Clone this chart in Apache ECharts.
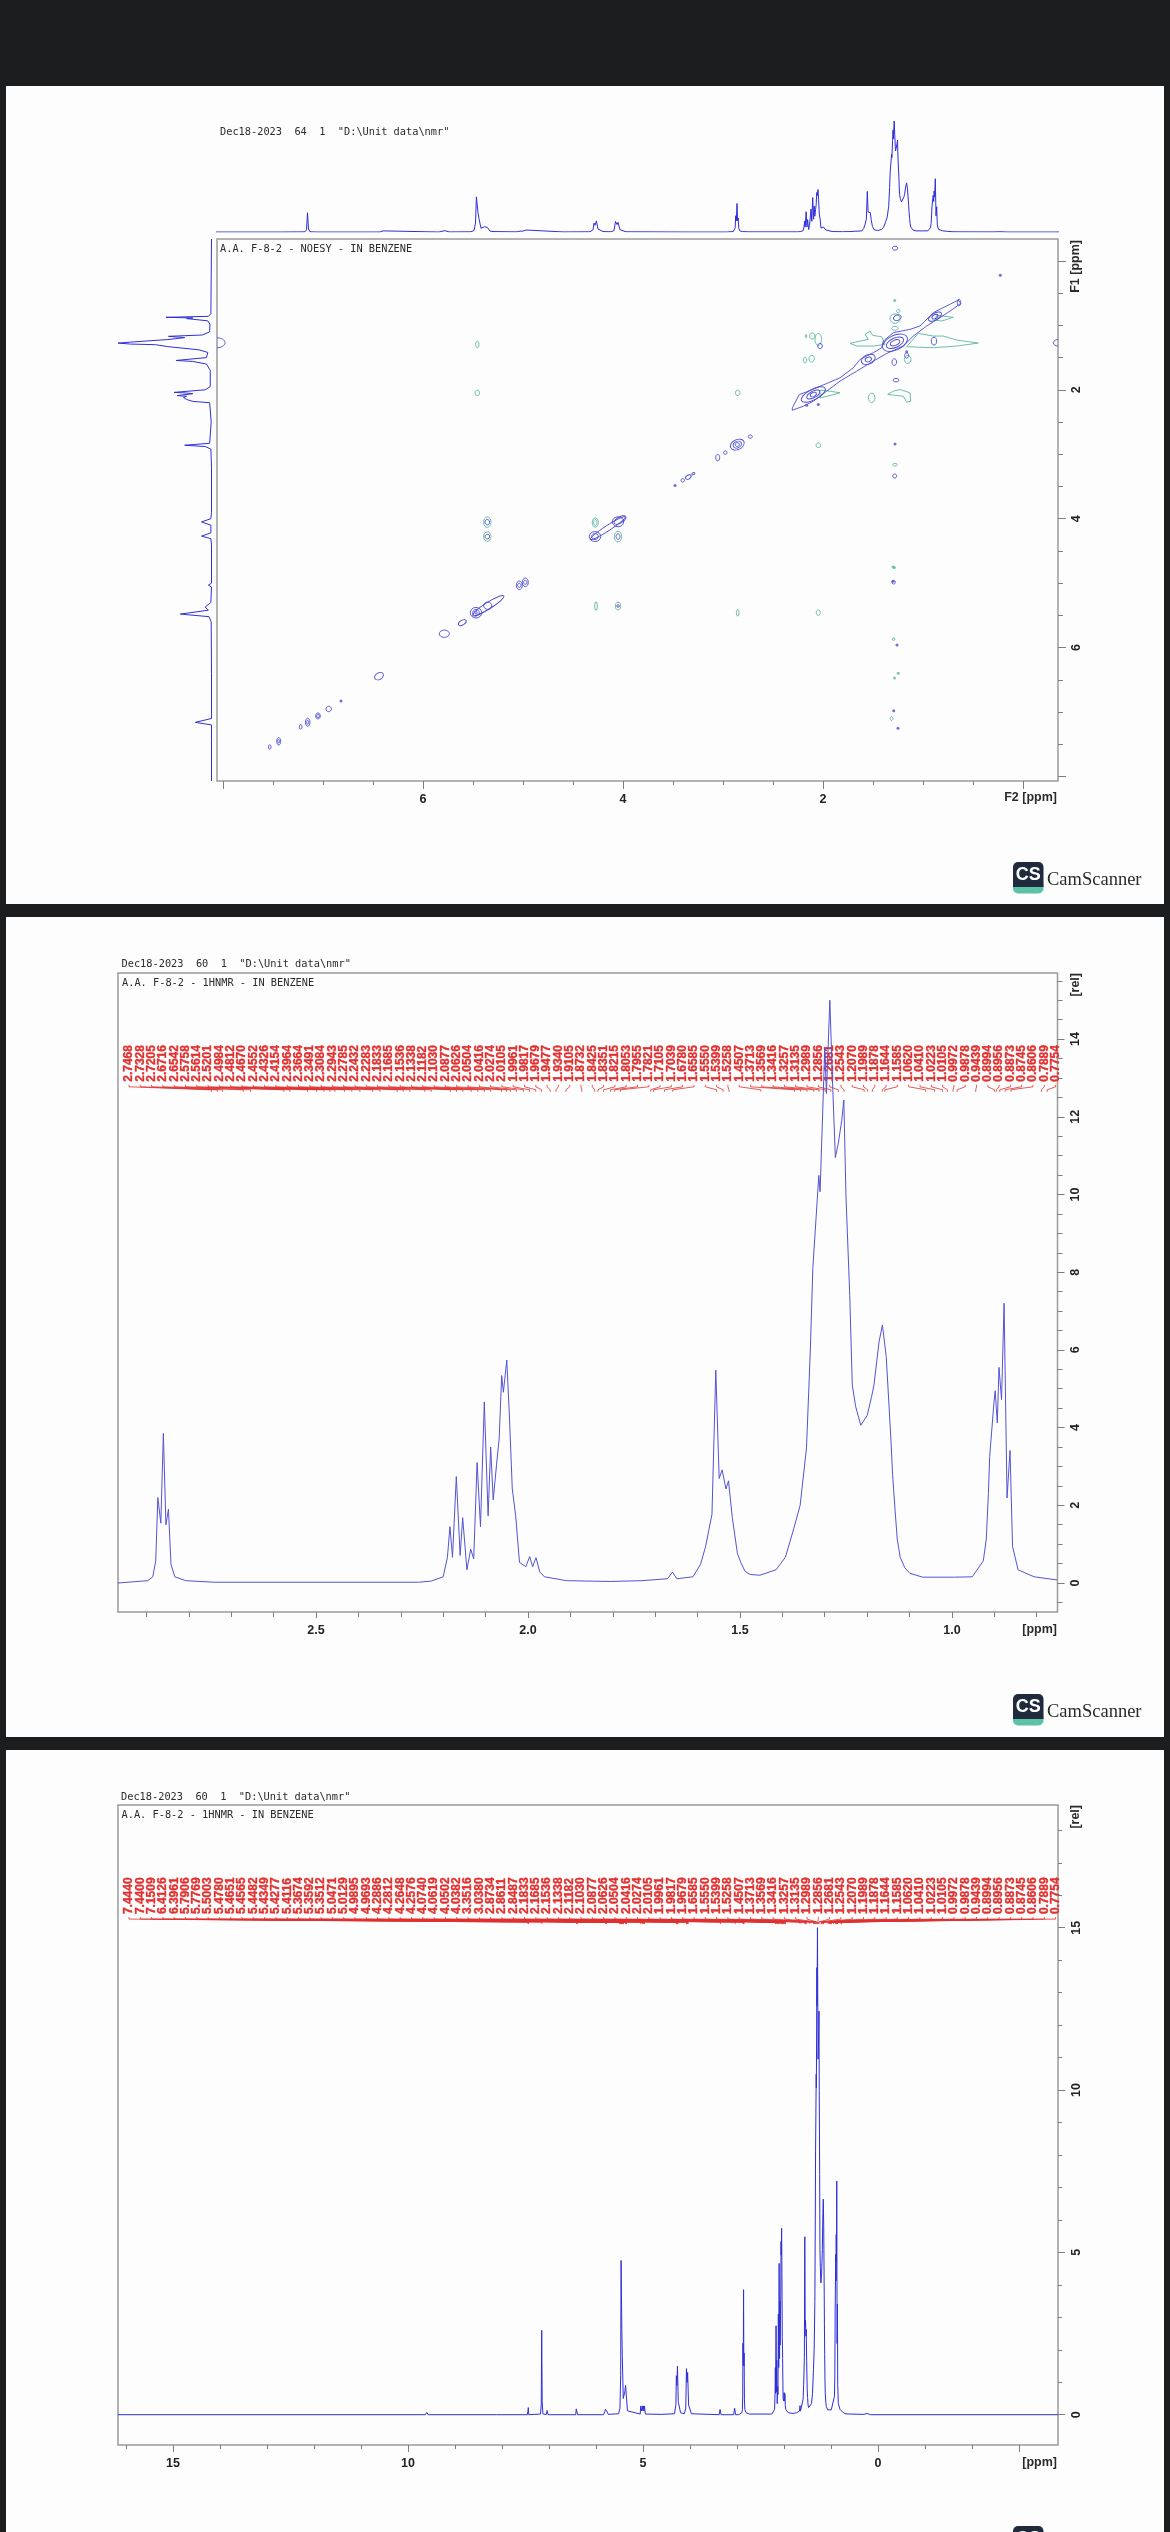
<!DOCTYPE html>
<html>
<head>
<meta charset="utf-8">
<title>NMR spectra</title>
<style>
  html, body { margin: 0; padding: 0; background: #1c1d1f; }
  #main { width: 1170px; height: 2532px; }
</style>
<script src="https://cdn.jsdelivr.net/npm/echarts@6/dist/echarts.min.js"></script>
</head>
<body>
<div id="main"></div>
<script>
// low field part of the 1H trace
var lowPpm = [16.17,9.63,9.60,9.57,8.12,8.10,8.08,7.46,7.45,7.44,7.43,7.18,7.165,7.155,7.145,7.13,7.06,7.04,7.02,6.96,6.94,6.92,6.83,6.81,6.79,6.43,6.42,6.40,6.39,5.84,5.81,5.80,5.79,5.78,5.76,5.74,5.52,5.49,5.475,5.466,5.45,5.44,5.42,5.40,5.385,5.37,5.355,5.33,5.30,5.06,5.047,5.03,5.013,5.0,4.99,4.98,4.97,4.95,4.6,4.33,4.30,4.29,4.28,4.266,4.25,4.20,4.12,4.09,4.075,4.06,4.05,4.03,3.97,3.38,3.36,3.34,3.07,3.05,3.03];
var lowRel = [0,0,.07,0,0,.03,0,0,.1,.22,0,.02,.3,2.6,.4,.03,0,.13,0,0,.05,0,0,.06,0,0,.18,.15,0,0,.1,.17,.12,.18,.08,.01,.03,.2,1.2,4.75,2.6,1.8,.5,.5,.72,.9,.6,.12,.06,.02,.27,.12,.27,.12,.27,.12,.27,.02,.01,.03,.3,1.2,.9,1.5,.4,.06,.03,.2,1.42,1.0,1.3,.3,.03,0,.16,0,0,.2,0];

// expanded 1H trace
var zoomPpm = [2.967,2.897,2.885,2.878,2.873,2.866,2.860,2.854,2.848,2.842,2.833,2.807,2.74,2.258,2.228,2.20,2.19,2.184,2.178,2.169,2.16,2.154,2.144,2.135,2.128,2.12,2.112,2.103,2.094,2.088,2.082,2.074,2.068,2.062,2.058,2.05,2.044,2.037,2.029,2.02,2.005,1.996,1.989,1.981,1.972,1.961,1.909,1.806,1.731,1.671,1.659,1.649,1.611,1.593,1.581,1.566,1.557,1.549,1.542,1.533,1.527,1.518,1.506,1.498,1.488,1.476,1.453,1.415,1.393,1.373,1.358,1.343,1.334,1.328,1.314,1.311,1.304,1.30,1.296,1.288,1.282,1.275,1.268,1.26,1.255,1.25,1.241,1.235,1.227,1.215,1.2,1.19,1.184,1.172,1.164,1.155,1.144,1.14,1.134,1.129,1.122,1.111,1.099,1.069,.994,.952,.926,.919,.914,.911,.901,.898,.893,.889,.883,.877,.87,.863,.857,.844,.806,.752];
var zoomRel = [0,.06,.16,.57,2.2,1.54,3.85,1.5,1.9,.48,.16,.06,.02,.02,.05,.16,.66,1.45,.66,2.74,.71,1.68,.34,.87,.62,3.1,1.45,4.66,1.73,3.5,2.14,3.06,3.71,5.34,4.91,5.74,4.35,2.42,1.73,.53,.42,.68,.42,.65,.28,.16,.06,.04,.06,.11,.28,.11,.16,.48,.94,1.77,5.48,2.69,2.91,2.42,2.63,1.68,.76,.53,.3,.22,.2,.34,.66,1.4,2.0,3.48,6.0,8.12,10.49,10.07,12.4,13.77,12.6,15.0,13.0,10.95,11.32,11.9,12.43,9.98,7.4,5.09,4.54,4.06,4.31,4.77,5.09,6.2,6.64,5.83,3.71,2.79,1.86,1.13,.66,.39,.25,.15,.15,.16,.57,1.13,2.3,3.25,4.63,4.95,4.12,5.55,4.72,7.2,2.19,3.41,.94,.34,.16,.08];

var tailPpm = [.70,.60,.30,.23,.16,-3.83];
var tailRel = [.03,.02,.01,.04,0,0];

// F1 projection at the left of the NOESY panel
var sidePpm = [-.34,.82,.86,.875,.885,.895,.93,.98,1.1,1.15,1.17,1.19,1.22,1.26,1.275,1.29,1.30,1.33,1.38,1.42,1.5,1.545,1.56,1.6,1.7,1.95,2.0,2.04,2.05,2.06,2.09,2.1,2.12,2.15,2.18,2.2,2.5,2.83,2.86,2.88,2.92,3.2,3.21,3.22,3.9,4.0,4.05,4.1,4.22,4.27,4.31,4.4,5.0,5.03,5.06,5.3,5.37,5.42,5.48,5.52,5.6,6.4,6.41,6.42,7.1,7.16,7.2,7.44,7.45,7.46,8.07];
var sideRel = [0,.1,.5,7.3,3.0,4.0,.6,.25,.3,1.5,6.9,4.3,7,13,15,13,9,7,2,.6,.8,5.7,3,.8,.2,.2,1,6,4,3,5.5,4,4.5,4,3,.3,.05,.3,4.3,1,.1,0,.15,0,0,.1,1.6,.1,.1,1.6,.1,0,0,.5,0,.1,1,.5,5,.4,.05,0,.15,0,0,2.6,0,0,.15,0,0];

// diagonal and cross peak contours: f2, f1, radius a, radius b (ppm of f2), tilt
var blueRings = [
  [1.28,-.198,.027,.02,0],[.64,.647,.017,.033,0],[.88,.865,.073,.033,30],[.88,.865,.033,.02,30],
  [1.257,.881,.04,.027,20],[1.28,1.27,.133,.073,25],[1.28,1.27,.093,.047,25],[1.28,1.27,.05,.027,25],
  [1.547,1.529,.073,.047,25],[1.547,1.529,.033,.023,25],[2.097,2.073,.133,.053,28],[2.097,2.073,.073,.033,28],
  [2.097,2.073,.033,.02,28],[.89,1.244,.027,.04,0],[2.03,1.321,.023,.027,0],[1.163,1.467,.02,.027,0],
  [1.287,1.57,.023,.033,0],[1.27,1.85,.03,.017,0],[2.857,2.85,.073,.05,25],[2.857,2.85,.043,.033,25],
  [2.857,2.85,.02,.02,0],[2.727,2.726,.02,.017,0],[3.053,3.053,.02,.033,0],[2.977,2.975,.017,.017,0],
  [3.403,3.405,.017,.017,0],[3.347,3.354,.03,.02,30],[3.297,3.302,.017,.01,30],[1.283,3.338,.02,.02,0],
  [1.293,4.987,.017,.017,0],[7.533,7.543,.013,.023,0],[7.443,7.454,.02,.037,0],[7.443,7.454,.01,.017,0],
  [7.223,7.231,.013,.023,0],[7.153,7.159,.023,.04,0],[7.153,7.159,.01,.02,0],[7.05,7.06,.023,.03,0],
  [7.05,7.06,.013,.017,0],[6.943,6.952,.027,.027,0],[6.44,6.444,.047,.033,30],[5.787,5.785,.05,.037,0],
  [5.607,5.614,.043,.023,30],[5.47,5.459,.057,.053,0],[5.47,5.459,.033,.033,0],[5.47,5.459,.013,.013,0],
  [5.347,5.35,.183,.033,32],[5.353,5.35,.04,.037,0],[5.037,5.034,.03,.043,0],[5.037,5.034,.017,.02,0],
  [4.977,4.987,.03,.043,0],[4.977,4.987,.017,.02,0],[4.28,4.277,.057,.05,0],[4.28,4.277,.033,.03,0],
  [4.05,4.048,.057,.05,0],[4.03,4.02,.067,.03,30],[4.153,4.147,.207,.027,33],[5.357,4.054,.023,.027,0],
  [5.357,4.277,.023,.023,0],[4.05,4.277,.02,.027,0],[4.05,5.355,.013,.013,0],[-.353,1.27,.05,.033,0],
  [8.06,1.27,.08,.05,0]
];
var blueDots = [[.227,.222],[3.48,3.483],[1.28,2.84],[6.82,6.827],[2.047,2.228],[2.163,2.24],[1.163,1.41],[1.26,5.96],[1.293,6.98],[1.25,7.25],[1.3,4.97]];
var greenRings = [
  [5.457,1.296,.017,.033,0],[5.457,2.047,.023,.027,0],[5.357,4.054,.037,.053,0],[5.357,4.277,.037,.047,0],
  [4.277,4.059,.03,.047,0],[4.277,4.059,.017,.03,0],[4.05,4.277,.037,.053,0],[4.27,5.355,.013,.043,0],
  [4.05,5.355,.027,.04,0],[1.247,.777,.017,.017,0],[1.28,.896,.05,.047,0],[1.28,1.047,.033,.02,0],
  [2.107,1.166,.027,.03,0],[2.17,1.166,.007,.017,0],[2.047,1.218,.033,.06,0],[2.18,1.539,.017,.03,0],
  [2.113,1.518,.027,.033,0],[2.853,2.047,.023,.027,0],[2.047,2.861,.023,.023,0],[1.513,2.125,.033,.047,0],
  [1.28,3.162,.023,.013,0],[2.853,5.458,.013,.033,0],[2.047,5.458,.02,.027,0],[1.153,1.529,.033,.04,0],
  [1.315,7.1,.013,.02,0],[1.293,5.87,.013,.013,0]
];
var greenDots = [[1.283,.616],[1.287,4.759],[1.3,4.75],[1.285,6.47],[1.247,6.4]];

// outlines that are not plain ellipses, f2 and f1 pairs
var blueOutlines = [
  [[2.307,2.28],[2.237,2.073],[2.163,2.032],[1.963,1.902],[1.83,1.814],[1.697,1.658],[1.63,1.529],[1.497,1.425],[1.413,1.347],[1.397,1.244],[1.297,1.114],[1.13,1.062],[1.03,1.01],[.897,.803],[.73,.673],[.647,.606],[.623,.658],[.68,.725],[.83,.881],[.963,1.01],[1.097,1.166],[1.197,1.321],[1.363,1.436],[1.497,1.555],[1.663,1.71],[1.83,1.866],[1.963,2.021],[2.097,2.177],[2.197,2.255],[2.307,2.317]]
];
var greenOutlines = [
  [[1.163,1.332],[1.047,1.124],[.897,1.166],[.797,1.166],[.663,1.228],[.447,1.275],[.663,1.321],[.897,1.347]],
  [[1.73,1.28],[1.63,1.244],[1.547,1.218],[1.58,1.14],[1.53,1.088],[1.503,1.156],[1.413,1.176],[1.38,1.295],[1.497,1.321],[1.663,1.321]],
  [[1.353,2.073],[1.297,2.021],[1.23,1.995],[1.13,2.047],[1.123,2.177],[1.163,2.192],[1.197,2.099],[1.297,2.083]],
  [[2.03,2.006],[1.93,2.021],[1.83,2.047],[1.93,2.089],[2.03,2.125]],
  [[.863,.844],[.697,.876],[.813,.933],[.88,.917]]
];

// peak lists of the two 1D panels
var peaksExpanded = ['2.7468','2.7328','2.7205','2.6716','2.6542','2.5758','2.5614','2.5201','2.4984','2.4812','2.4670','2.4552','2.4326','2.4154','2.3964','2.3664','2.3491','2.3084','2.2943','2.2785','2.2432','2.2283','2.1833','2.1685','2.1536','2.1338','2.1182','2.1030','2.0877','2.0626','2.0504','2.0416','2.0274','2.0105','1.9961','1.9817','1.9679','1.9477','1.9340','1.9105','1.8732','1.8425','1.8351','1.8215','1.8053','1.7955','1.7821','1.7105','1.7039','1.6780','1.6585','1.5550','1.5399','1.5258','1.4507','1.3713','1.3569','1.3416','1.3257','1.3135','1.2989','1.2856','1.2681','1.2543','1.2070','1.1989','1.1878','1.1644','1.1585','1.0620','1.0410','1.0223','1.0105','0.9972','0.9878','0.9439','0.8994','0.8956','0.8873','0.8745','0.8606','0.7889','0.7754'];
var peaksFull = ['7.4440','7.4400','7.1509','6.4126','6.3961','5.7906','5.7769','5.5003','5.4780','5.4651','5.4565','5.4482','5.4349','5.4277','5.4116','5.3674','5.3592','5.3512','5.0471','5.0129','4.9895','4.9693','4.2886','4.2812','4.2648','4.2576','4.0740','4.0619','4.0502','4.0382','3.3516','3.0380','2.8734','2.8611','2.8487','2.1833','2.1685','2.1536','2.1338','2.1182','2.1030','2.0877','2.0626','2.0504','2.0416','2.0274','2.0105','1.9961','1.9817','1.9679','1.6585','1.5550','1.5399','1.5258','1.4507','1.3713','1.3569','1.3416','1.3257','1.3135','1.2989','1.2856','1.2681','1.2543','1.2070','1.1989','1.1878','1.1644','1.1585','1.0620','1.0410','1.0223','1.0105','0.9972','0.9878','0.9439','0.8994','0.8956','0.8873','0.8745','0.8606','0.7889','0.7754'];

// tick labels
var noesyLabels = [2, 4, 6];
var noesyMajor = [0, 2, 4, 6, 8];
var expandedXLabels = [1, 1.5, 2, 2.5];
var expandedYLabels = [0, 2, 4, 6, 8, 10, 12, 14];
var fullXLabels = [0, 5, 10, 15];
var fullXMajor = [-3, 0, 5, 10, 15];
var fullYLabels = [0, 5, 10, 15];

var headerNoesy = 'Dec18-2023  64  1  "D:\\Unit data\\nmr"';
var header1H = 'Dec18-2023  60  1  "D:\\Unit data\\nmr"';
var titleNoesy = 'A.A. F-8-2 - NOESY - IN BENZENE';
var title1H = 'A.A. F-8-2 - 1HNMR - IN BENZENE';

var fullPpm = lowPpm.concat(zoomPpm, tailPpm);
var fullRel = lowRel.concat(zoomRel, tailRel);

var BLUE = '#2f2fd6', TRACE = '#5353d4', CONTOUR = '#4a4ad2', GREEN = '#5cb5a2', RED = '#e0302f', GRAY = '#9b9b9b';
var MONO = '"DejaVu Sans Mono", monospace', SANS = '"Liberation Sans", sans-serif';
var PAGE_TOPS = [86, 917, 1750], PAGE_BOTTOMS = [904, 1737, 2532];
var LOGO_TOPS = [862, 1694, 2526];
var LABEL_LEFT = 129, LABEL_STEP = 11.3;

function range(from, to, step) {
  var out = [];
  for (var i = 0; from + i * step <= to + 1e-9; i++) out.push(+(from + i * step).toFixed(3));
  return out;
}
function pairs(a, b) {
  return a.map(function (v, i) { return [v, b[i]]; });
}

// grids
var grids = [
  { left: 217, top: 239, width: 841, height: 542, show: true, borderColor: GRAY, borderWidth: 1.5 },
  { left: 217, top: 121, width: 841, height: 111 },
  { left: 118, top: 239, width: 93.5, height: 542 },
  { left: 118, top: 973, width: 939.5, height: 639, show: true, borderColor: GRAY, borderWidth: 1.5 },
  { left: 118, top: 1805, width: 940, height: 640, show: true, borderColor: GRAY, borderWidth: 1.5 }
];

function hiddenAxis(gridIndex, min, max, inverse) {
  return { type: 'value', gridIndex: gridIndex, min: min, max: max, inverse: !!inverse, show: false, splitLine: { show: false } };
}
function tickAxis(gridIndex, pos, min, max, inverse, labels, ticks, len, rotate, margin, fmt) {
  return {
    type: 'value', gridIndex: gridIndex, position: pos, min: min, max: max, inverse: !!inverse,
    splitLine: { show: false },
    axisLine: { show: false, onZero: false },
    axisTick: { show: true, length: len, customValues: ticks, lineStyle: { color: '#7d7d7d', width: 1 } },
    axisLabel: labels ? {
      show: true, customValues: labels, rotate: rotate, margin: margin, hideOverlap: false,
      color: '#222', fontFamily: SANS, fontWeight: 'bold', fontSize: 12.5, formatter: fmt
    } : { show: false }
  };
}
function oneDecimal(v) { return v.toFixed(1); }

var xAxes = [
  tickAxis(0, 'bottom', -.35, 8.06, true, noesyLabels, noesyMajor, 8, 0, 12),
  tickAxis(0, 'bottom', -.35, 8.06, true, null, range(0, 8, .5), 4),
  hiddenAxis(1, -.35, 8.06, true),
  hiddenAxis(2, 0, 15, true),
  tickAxis(3, 'bottom', .751, 2.967, true, expandedXLabels, range(1, 2.5, .5), 6, 0, 12, oneDecimal),
  tickAxis(3, 'bottom', .751, 2.967, true, null, range(.8, 2.9, .1), 5),
  tickAxis(4, 'bottom', -3.83, 16.17, true, fullXLabels, fullXMajor, 7, 0, 12),
  tickAxis(4, 'bottom', -3.83, 16.17, true, null, range(-3, 16, 1), 4)
];
var yAxes = [
  tickAxis(0, 'right', -.34, 8.07, true, noesyLabels, noesyMajor, 8, 90, 12),
  tickAxis(0, 'right', -.34, 8.07, true, null, range(0, 8, .5), 5),
  hiddenAxis(1, 0, 15),
  hiddenAxis(2, -.34, 8.07, true),
  tickAxis(3, 'right', -.746, 15.7, false, expandedYLabels, expandedYLabels, 7, 90, 12),
  tickAxis(3, 'right', -.746, 15.7, false, null, range(-.5, 15.5, .5), 5),
  tickAxis(4, 'right', -.933, 18.78, false, fullYLabels, fullYLabels, 7, 90, 12),
  tickAxis(4, 'right', -.933, 18.78, false, null, range(0, 18, 1), 4)
];

function traceSeries(xIndex, yIndex, data, color, width) {
  return {
    type: 'line', xAxisIndex: xIndex, yAxisIndex: yIndex, data: data, showSymbol: false, smooth: false,
    clip: true, silent: true, sampling: 'none', lineStyle: { color: color, width: width }
  };
}

function ringSeries(rows, color) {
  return {
    type: 'custom', xAxisIndex: 0, yAxisIndex: 0, clip: true, silent: true, data: rows,
    renderItem: function (params, api) {
      var c = api.coord([api.value(0), api.value(1)]);
      var scale = Math.abs(api.size([1, 0])[0]);
      return {
        type: 'ellipse', x: c[0], y: c[1], rotation: api.value(4) * Math.PI / 180,
        shape: { cx: 0, cy: 0, rx: api.value(2) * scale, ry: api.value(3) * scale },
        style: { fill: 'none', stroke: color, lineWidth: .9 }
      };
    }
  };
}
function dotSeries(rows, color) {
  return {
    type: 'scatter', xAxisIndex: 0, yAxisIndex: 0, data: rows, symbolSize: 3, silent: true,
    itemStyle: { color: color }
  };
}
function outlineSeries(shapes, color) {
  return {
    type: 'custom', xAxisIndex: 0, yAxisIndex: 0, clip: true, silent: true,
    data: shapes.map(function (s) { return [s[0][0], s[0][1]]; }),
    renderItem: function (params, api) {
      return {
        type: 'polygon',
        shape: { points: shapes[params.dataIndex].map(function (p) { return api.coord(p); }) },
        style: { fill: 'none', stroke: color, lineWidth: .9 }
      };
    }
  };
}

// rotated peak label plus its leader down to the real ppm position
function peakSeries(xIndex, yIndex, peaks, level) {
  return {
    type: 'custom', xAxisIndex: xIndex, yAxisIndex: yIndex, silent: true,
    data: peaks.map(function (p) { return [parseFloat(p), level]; }),
    renderItem: function (params, api) {
      var c = api.coord([api.value(0), api.value(1)]);
      var lx = LABEL_LEFT + params.dataIndex * LABEL_STEP;
      return {
        type: 'group',
        children: [
          {
            type: 'text', x: lx, y: c[1], rotation: Math.PI / 2,
            style: { text: peaks[params.dataIndex], font: 'bold 12px ' + SANS, fill: RED, stroke: RED, lineWidth: .35, align: 'left', verticalAlign: 'middle' }
          },
          {
            type: 'polyline',
            shape: { points: [[lx, c[1] + 3], [lx, c[1] + 5], [c[0], c[1] + 8], [c[0], c[1] + 10]] },
            style: { fill: 'none', stroke: RED, lineWidth: .8 }
          }
        ]
      };
    }
  };
}

var series = [
  traceSeries(2, 2, pairs(fullPpm, fullRel), BLUE, 1),
  traceSeries(3, 3, pairs(sideRel, sidePpm), BLUE, 1),
  ringSeries(greenRings, GREEN),
  outlineSeries(greenOutlines, GREEN),
  dotSeries(greenDots, GREEN),
  ringSeries(blueRings, CONTOUR),
  outlineSeries(blueOutlines, CONTOUR),
  dotSeries(blueDots, CONTOUR),
  traceSeries(4, 4, pairs(zoomPpm, zoomRel), TRACE, 1),
  peakSeries(4, 4, peaksExpanded, 12.9),
  traceSeries(6, 6, pairs(fullPpm, fullRel), BLUE, 1),
  peakSeries(6, 6, peaksFull, 15.42)
];

function label(text, x, y, font, extra) {
  var style = { text: text, x: x, y: y, font: font, fill: '#2b2b2b', align: 'left', verticalAlign: 'middle' };
  var el = { type: 'text', silent: true, style: style };
  if (extra) {
    if (extra.align) style.align = extra.align;
    if (extra.rotation) {
      el.x = x; el.y = y; el.rotation = extra.rotation;
      style.x = 0; style.y = 0;
    }
  }
  return el;
}
function logo(top) {
  return {
    type: 'group', x: 1013, y: top, silent: true,
    children: [
      { type: 'rect', shape: { x: 0, y: 22, width: 30.5, height: 9.5, r: [0, 0, 5, 5] }, style: { fill: '#5cc2a6' } },
      { type: 'rect', shape: { x: 0, y: 0, width: 30.5, height: 25, r: [5, 5, 0, 0] }, style: { fill: '#1f2a3c' } },
      { type: 'text', style: { text: 'CS', x: 15.2, y: 13, font: 'bold 18px ' + SANS, fill: '#ffffff', align: 'center', verticalAlign: 'middle' } },
      { type: 'text', style: { text: 'CamScanner', x: 34, y: 18, font: '18.5px "Liberation Serif", serif', fill: '#2b2b2b', align: 'left', verticalAlign: 'middle' } }
    ]
  };
}

var graphics = PAGE_TOPS.map(function (top, i) {
  return { type: 'rect', z: -10, silent: true, shape: { x: 6, y: top, width: 1158, height: PAGE_BOTTOMS[i] - top }, style: { fill: '#fdfdfd' } };
});
var upRot = Math.PI / 2, monoFont = '10.3px ' + MONO, axisFont = 'bold 12.5px ' + SANS;
graphics = graphics.concat([
  label(headerNoesy, 220, 132, monoFont),
  label(titleNoesy, 220, 249, monoFont),
  label(header1H, 121.5, 964, monoFont),
  label(title1H, 122, 983, monoFont),
  label(header1H, 121, 1797, monoFont),
  label(title1H, 121.5, 1815, monoFont),
  label('F2 [ppm]', 1057, 798, axisFont, { align: 'right' }),
  label('[ppm]', 1057, 1630, axisFont, { align: 'right' }),
  label('[ppm]', 1057, 2463, axisFont, { align: 'right' }),
  label('F1 [ppm]', 1076, 240, axisFont, { align: 'right', rotation: upRot }),
  label('[rel]', 1076, 973, axisFont, { align: 'right', rotation: upRot }),
  label('[rel]', 1076, 1805, axisFont, { align: 'right', rotation: upRot })
], LOGO_TOPS.map(logo));

var chart = echarts.init(document.getElementById('main'), null, { width: 1170, height: 2532 });
chart.setOption({
  animation: false,
  backgroundColor: '#1c1d1f',
  grid: grids,
  xAxis: xAxes,
  yAxis: yAxes,
  series: series,
  graphic: graphics
});
</script>
</body>
</html>
